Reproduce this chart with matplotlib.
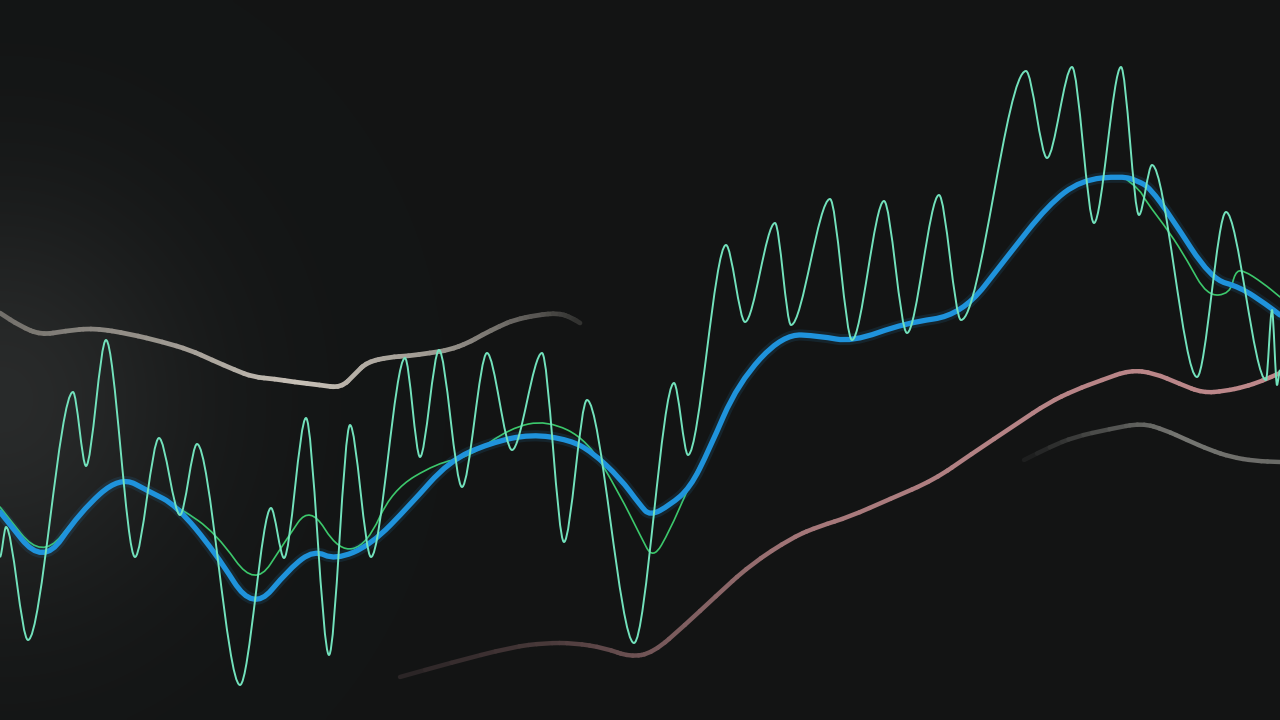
import numpy as np
import matplotlib
matplotlib.use('Agg')
import matplotlib.pyplot as plt
from matplotlib.collections import LineCollection
from matplotlib.path import Path
from matplotlib.patches import PathPatch

# values (x, level), level axis runs downward
osc_x = [0, 6, 28, 73, 86, 106, 135, 159, 180, 197, 240, 271, 284, 306, 329, 350, 371,
         405, 420, 439, 462, 487, 512, 542, 564, 587, 634, 674, 688, 726, 745, 775, 791,
         830, 852, 884, 907, 939, 961, 1026, 1047, 1072, 1094, 1121, 1139, 1152, 1197,
         1226, 1266, 1272, 1277, 1280]
osc_y = [557, 527, 640, 392, 466, 340, 557, 438, 515, 444, 685, 508, 558, 418, 655, 425, 557,
         358, 457, 350, 487, 353, 450, 353, 542, 400, 643, 383, 455, 245, 322, 223, 325,
         199, 340, 201, 333, 195, 320, 71, 158, 67, 223, 67, 215, 165, 377,
         212, 380, 310, 385, 370]

avg_x = [0, 43, 80, 120, 150, 176, 215, 253, 290, 314, 335, 371, 410, 449, 490, 531, 570,
         592, 620, 640, 650, 670, 690, 709, 738, 783, 820, 852, 905, 962, 1007, 1048, 1081,
         1122, 1138, 1150, 1171, 1211, 1240, 1267, 1280]
avg_y = [512, 566, 512, 476, 492, 505, 552, 612, 568, 550, 560, 545, 505, 461, 443, 434, 440,
         452, 478, 505, 516, 505, 488, 450, 383, 334, 336, 342, 323, 315, 257, 205, 180,
         176, 181, 188, 217, 279, 287, 305, 315]

sig_left_x = [0, 42, 80, 120, 150, 180, 216, 255, 286, 310, 339, 367, 392, 437, 469, 510,
              547, 588, 620, 640, 653, 670, 686, 700]
sig_left_y = [507, 560, 512, 476, 492, 508, 533, 588, 540, 505, 552, 545, 490, 463, 457, 428,
              420, 440, 495, 535, 560, 530, 493, 465]
sig_right_x = [1122, 1140, 1145, 1170, 1187, 1207, 1230, 1235, 1243, 1263, 1280]
sig_right_y = [176, 190, 200, 233, 260, 296, 294, 272, 270, 283, 297]

upper_x = [0, 20, 41, 65, 94, 130, 163, 190, 212, 235, 253, 275, 294, 320, 341, 355, 367,
           390, 408, 430, 449, 468, 482, 500, 514, 537, 559, 572, 580]
upper_y = [313, 326, 335, 331, 328, 334, 342, 350, 360, 370, 377, 379, 382, 385, 388, 374,
           362, 357, 356, 353, 350, 343, 335, 326, 320, 315, 313, 318, 323]

lower_x = [400, 450, 512, 545, 574, 605, 630, 653, 685, 715, 750, 793, 820, 849, 890, 934,
           970, 1018, 1048, 1075, 1102, 1130, 1154, 1180, 1203, 1225, 1244, 1262, 1280]
lower_y = [677, 663, 647, 643, 643, 648, 657, 653, 625, 597, 565, 537, 526, 517, 499, 480,
           455, 423, 403, 390, 380, 370, 373, 384, 393, 391, 387, 381, 373]

slow_x = [1024, 1050, 1074, 1110, 1142, 1165, 1187, 1210, 1231, 1255, 1280]
slow_y = [460, 447, 437, 429, 423, 430, 440, 450, 457, 461, 462]

BG = np.array([0.075, 0.082, 0.082])


def smooth_path(xs, ys):
    # quadratic curve through midpoints, the read points act as control points
    pts = np.column_stack([xs, ys]).astype(float)
    mids = (pts[:-1] + pts[1:]) / 2
    verts = [pts[0], mids[0]]
    codes = [Path.MOVETO, Path.LINETO]
    for i in range(1, len(pts) - 1):
        verts += [pts[i], mids[i]]
        codes += [Path.CURVE3, Path.CURVE3]
    verts.append(pts[-1])
    codes.append(Path.LINETO)
    return Path(verts, codes)


def wave_path(xs, ys, k=0.3):
    # cubic pieces with flat tangents at each turning point
    verts = [(xs[0], ys[0])]
    codes = [Path.MOVETO]
    for i in range(len(xs) - 1):
        dx = xs[i + 1] - xs[i]
        verts += [(xs[i] + k * dx, ys[i]), (xs[i + 1] - k * dx, ys[i + 1]),
                  (xs[i + 1], ys[i + 1])]
        codes += [Path.CURVE4] * 3
    return Path(verts, codes)


def smooth(ax, xs, ys, color, lw, z, alpha=1.0):
    ax.add_patch(PathPatch(smooth_path(xs, ys), fill=False, edgecolor=color, lw=lw,
                           alpha=alpha, capstyle='round', joinstyle='round', zorder=z))


def faded(ax, xs, ys, rgb, ax_pts, al_pts, lw, z):
    pts = smooth_path(xs, ys).to_polygons(closed_only=False)[0]
    segs = np.stack([pts[:-1], pts[1:]], axis=1)
    mx = (pts[:-1, 0] + pts[1:, 0]) / 2
    a = np.interp(mx, ax_pts, al_pts)
    cols = BG[None, :] * (1 - a[:, None]) + np.array(rgb)[None, :] * a[:, None]
    lc = LineCollection(segs, colors=cols, linewidths=lw, capstyle='round',
                        joinstyle='round', zorder=z)
    ax.add_collection(lc)


fig = plt.figure(figsize=(12.8, 7.2), dpi=100)
ax = fig.add_axes([0, 0, 1, 1])
ax.set_xlim(0, 1280)
ax.set_ylim(720, 0)
ax.axis('off')

# dark background with a soft glow on the left
gx, gy = np.meshgrid(np.linspace(0, 1280, 320), np.linspace(0, 720, 180))
glow = np.exp(-((gx / 190.0) ** 2 + ((gy - 400) / 200.0) ** 2))
img = BG[None, None, :] + glow[..., None] * 0.085
ax.imshow(np.clip(img, 0, 1), extent=(0, 1280, 720, 0), aspect='auto', zorder=0,
          interpolation='bicubic')

faded(ax, upper_x, upper_y, (0.82, 0.79, 0.75),
      [0, 150, 300, 450, 540, 580], [0.5, 0.7, 0.95, 0.7, 0.35, 0.15], 3.4, 2)
faded(ax, lower_x, lower_y, (0.78, 0.56, 0.57),
      [400, 550, 660, 800, 1000, 1280], [0.12, 0.3, 0.55, 0.8, 0.9, 0.95], 3.2, 2)
faded(ax, slow_x, slow_y, (0.56, 0.56, 0.54),
      [1024, 1100, 1180, 1280], [0.05, 0.45, 0.8, 0.7], 3.2, 2)

smooth(ax, sig_left_x, sig_left_y, '#3cc86c', 1.2, 3)
smooth(ax, sig_right_x, sig_right_y, '#3cc86c', 1.2, 3)
smooth(ax, avg_x, avg_y, '#2a9be0', 8, 4, alpha=0.12)
smooth(ax, avg_x, avg_y, '#1f93dc', 3.8, 5)
ax.add_patch(PathPatch(wave_path(osc_x, osc_y), fill=False, edgecolor='#72e2bc', lw=1.4,
                       joinstyle='round', zorder=6))

fig.savefig('out.png', dpi=100, facecolor='#131515')
